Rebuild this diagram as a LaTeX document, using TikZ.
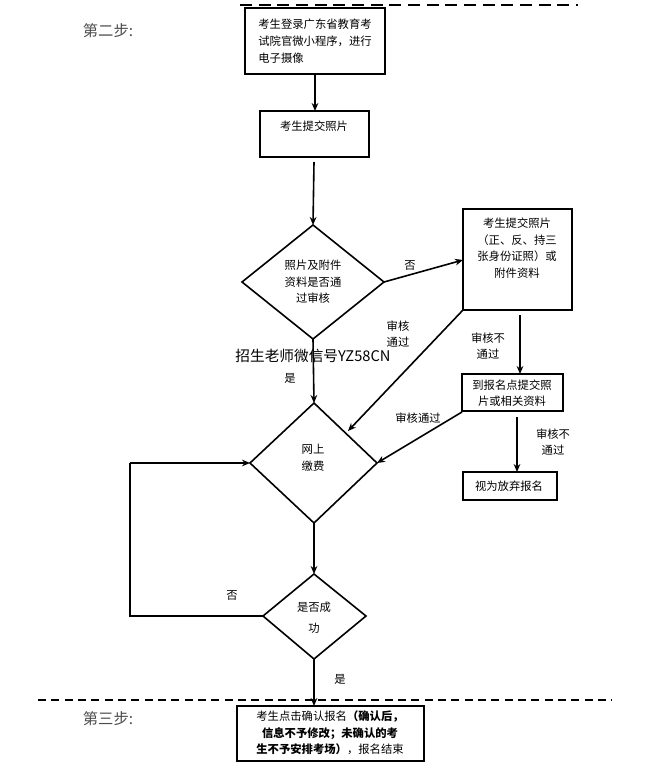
\documentclass[tikz,border=0pt]{standalone}
\usepackage{fontspec}
\setmainfont{Liberation Serif}
\newfontfamily\cjk{Noto Sans CJK SC}
\usetikzlibrary{arrows.meta,shapes.geometric}
\begin{document}
\begin{tikzpicture}[x=0.75pt,y=-0.75pt,
  txt/.style={font=\cjk\fontsize{8.5}{12.5}\selectfont,align=center,inner sep=0},
  box/.style={draw,line width=1.2pt},
  ar/.style={line width=1.2pt,-{Stealth[length=6pt,width=5pt]}},
  ln/.style={line width=1.2pt},
  lab/.style={font=\cjk\fontsize{8.5}{12.5}\selectfont,align=center,inner sep=0},
  steplab/.style={font=\cjk\fontsize{11.5}{14}\selectfont,text=black!70,inner sep=0}]
\useasboundingbox (0,0) rectangle (649,772);
\draw[line width=1.2pt,dash pattern=on 9pt off 5pt] (240,5) -- (578,5);
\draw[line width=1.2pt,dash pattern=on 6pt off 4pt] (38,700) -- (612,700);
\node[steplab] (s2) at (108,31) {第二步:};
\node[steplab] (s3) at (108,719) {第三步:};
% boxes
\draw[box] (245,8) rectangle (385,74);
\node[txt,align=left] (b1) at (315,41) {考生登录广东省教育考\\试院官微小程序，进行\\电子摄像};
\coordinate (b1s) at (315,74);
\draw[box] (260,111) rectangle (369,157);
\node[txt] (b2) at (314,126) {考生提交照片};
\coordinate (b2n) at (315,111);
\coordinate (b2s) at (314,162);
% diamond 1
\draw[box] (313,225) -- (384,282) -- (313,339) -- (242,282) -- cycle;
\node[txt] (d1) at (313,282) {照片及附件\\资料是否通\\过审核};
\coordinate (d1n) at (313,225); \coordinate (d1e) at (384,282); \coordinate (d1s) at (313,339);
\draw[box] (463,209) rectangle (572,310);
\node[txt] (b3) at (517,248) {考生提交照片\\（正、反、持三\\张身份证照）或\\附件资料};
\coordinate (b3w) at (463,260); \coordinate (b3sw) at (463,310); \coordinate (b3s) at (520,315);
\draw[box] (462,374) rectangle (563,411);
\node[txt] (b4) at (512,393) {到报名点提交照\\片或相关资料};
\coordinate (b4n) at (520,374); \coordinate (b4w) at (462,412); \coordinate (b4s) at (517,417);
\draw[box] (463,472) rectangle (557,500);
\node[txt] (b5) at (509,486) {视为放弃报名};
\coordinate (b5n) at (517,472);
% diamond 2
\draw[box] (314,403) -- (377,463) -- (314,523) -- (250,463) -- cycle;
\node[txt] (d2) at (313,458) {网上\\缴费};
\coordinate (d2n) at (314,403); \coordinate (d2w) at (250,463); \coordinate (d2e) at (377,463);
\coordinate (d2ne) at (348,431); \coordinate (d2s) at (314,523);
% diamond 3
\draw[box] (314,574) -- (366,616) -- (314,659) -- (263,616) -- cycle;
\node[txt] (d3) at (314,618) {是否成\\[3pt]功};
\coordinate (d3n) at (314,574); \coordinate (d3w) at (263,616); \coordinate (d3s) at (314,659);
\draw[box,line width=0.8pt] (237,706) rectangle (424,761);
\node[txt] (b6) at (330,733) {考生点击确认报名\textbf{（确认后，}\\\textbf{信息不予修改；未确认的考}\\\textbf{生不予安排考场）}，报名结束};
\coordinate (b6n) at (314,706);
\coordinate (l1) at (130,616); \coordinate (l2) at (130,463);
% connectors
\draw[ar] (b1s) -- (b2n);
\draw[ar] (b2s) -- (d1n);
\draw[ar] (d1e) -- (b3w);
\draw[ar] (d1s) -- (d2n);
\draw[ar] (b3sw) -- (d2ne);
\draw[ar] (b3s) -- (b4n);
\draw[ar] (b4w) -- (d2e);
\draw[ar] (b4s) -- (b5n);
\draw[ar] (d2s) -- (d3n);
\draw[ln] (d3w) -- (l1) -- (l2);
\draw[ar] (l2) -- (d2w);
\draw[ar] (d3s) -- (b6n);
% labels
\node[lab] (n1) at (410,266) {否};
\node[lab] (n2) at (398,334) {审核\\通过};
\node[lab] (n3) at (488,346) {审核不\\通过};
\node[lab] (n4) at (418,418) {审核通过};
\node[lab] (n5) at (553,442) {审核不\\通过};
\node[lab] (n6) at (290,378) {是};
\node[lab] (n7) at (232,596) {否};
\node[lab] (n8) at (340,679) {是};
\node[inner sep=0,font=\fontsize{11}{13}\selectfont\cjk] (wm) at (313,356) {招生老师微信号YZ58CN};
\end{tikzpicture}
\end{document}
